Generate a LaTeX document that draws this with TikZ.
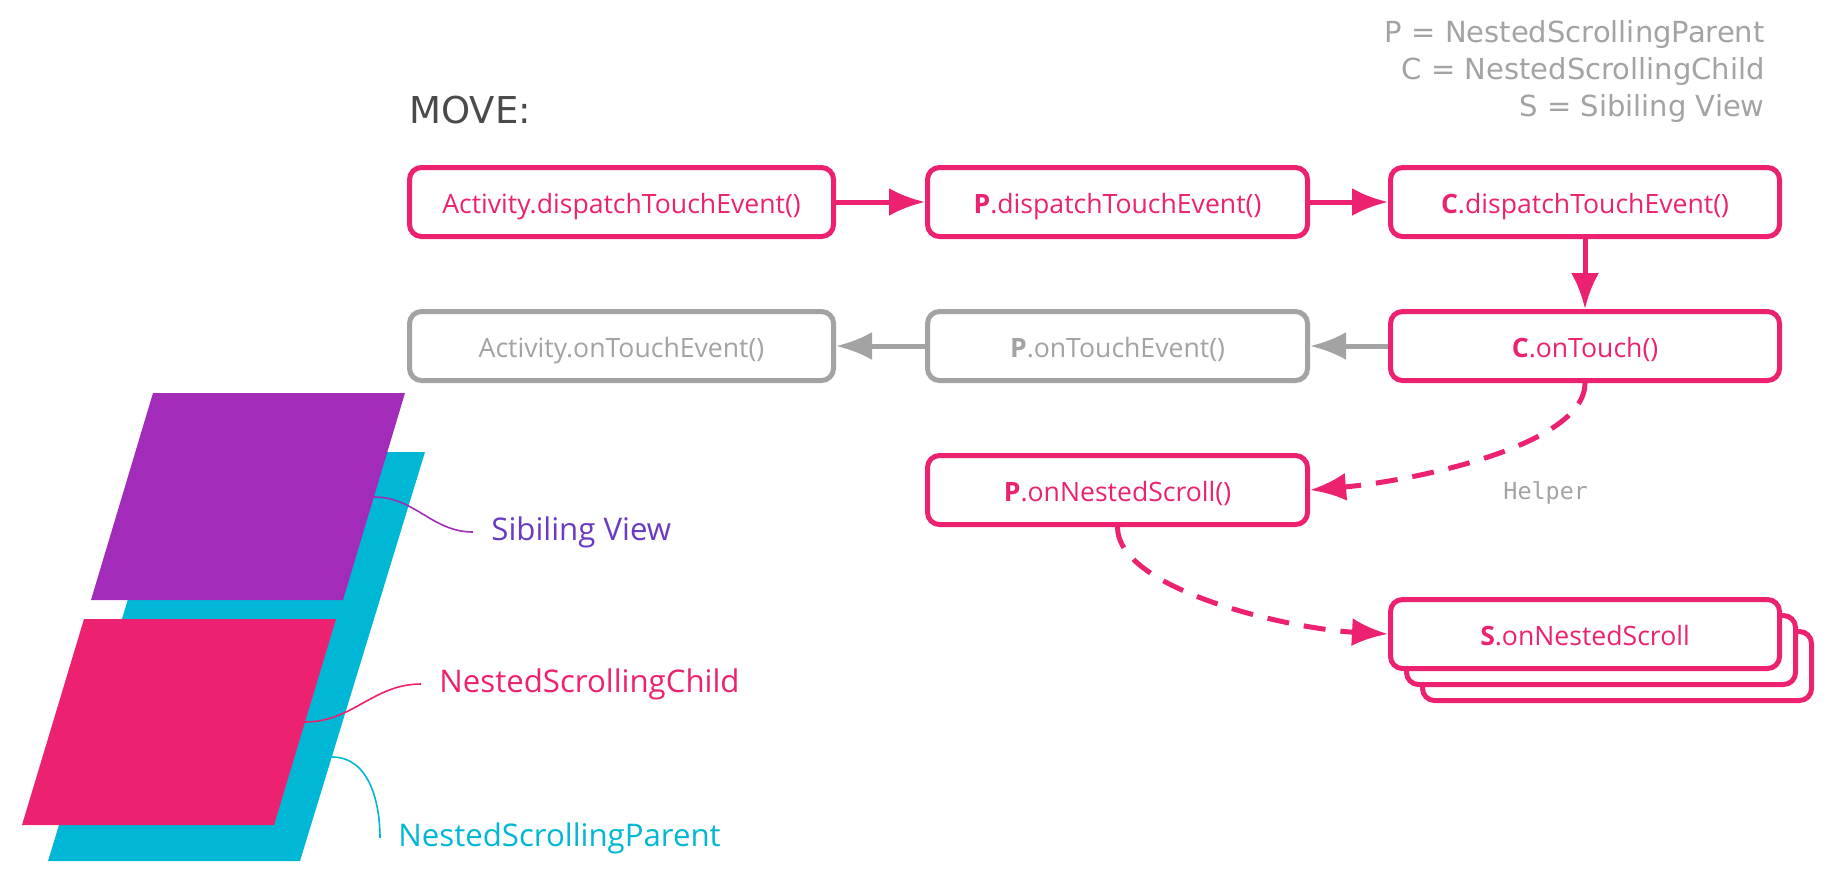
\documentclass[tikz,border=0pt]{standalone}
\usepackage{fontspec}
\setmainfont{Open Sans}
\newfontfamily\dejavu{DejaVu Sans}
\newfontfamily\dejavumono{DejaVu Sans Mono}
\usetikzlibrary{arrows.meta}
\definecolor{pinkish}{HTML}{EC2270}
\definecolor{greyish}{HTML}{A3A3A3}
\definecolor{purpleish}{HTML}{A22BB9}
\definecolor{cyanish}{HTML}{00B8D6}
\definecolor{deeppurple}{HTML}{6A3BC0}
\definecolor{darktext}{HTML}{4A4A4A}

\begin{document}
\begin{tikzpicture}[x=0.5pt,y=0.5pt,
    callbox/.style={draw=pinkish,line width=2.5pt,rounded corners=6pt,fill=white,minimum height=34.5pt,
        text=pinkish,font=\fontsize{13.3}{16}\selectfont,inner sep=0pt,text height=11pt,text depth=0pt},
    greybox/.style={callbox,draw=greyish,text=greyish},
    flow/.style={line width=2.5pt,draw=pinkish,-{Latex[length=18pt,width=14pt]}},
    back/.style={flow,draw=greyish},
    helper/.style={flow,dash pattern=on 11pt off 7.5pt,out looseness=0.55,in looseness=0.87},
    lbl/.style={anchor=west,inner xsep=9pt,inner ysep=2pt,font=\fontsize{15.6}{18}\selectfont},
    leader/.style={line width=0.8pt}]
    \useasboundingbox (0,0) rectangle (1836,-880);

    % Draw layers
    \fill[cyanish] (173,-452) -- (425,-452) -- (300,-861) -- (48,-861) -- cycle;
    \fill[purpleish] (153,-393) -- (405,-393) -- (343,-600) -- (91,-600) -- cycle;
    \fill[pinkish] (84,-619) -- (336,-619) -- (274,-825) -- (22,-825) -- cycle;

    % Layer labels
    \coordinate (sibtip) at (374,-497);
    \coordinate (childtip) at (305,-722);
    \coordinate (parenttip) at (332,-757);
    \node[lbl,text=deeppurple] (siblbl) at (473,-532) {Sibiling View};
    \node[lbl,text=pinkish] (childlbl) at (421,-684) {NestedScrollingChild};
    \node[lbl,text=cyanish] (parentlbl) at (380,-838) {NestedScrollingParent};
    \draw[leader,purpleish] (sibtip) to[out=0,in=180] (siblbl.west);
    \draw[leader,pinkish] (childtip) to[out=0,in=180] (childlbl.west);
    \draw[leader,cyanish] (parenttip) to[out=0,in=90] (parentlbl.west);

    % Titles
    \node[anchor=base west,inner sep=0pt,text=darktext,font=\dejavu\fontsize{18.5}{22}\selectfont] (move) at (409,-123) {MOVE:};
    \node[anchor=north east,align=right,inner sep=0pt,text=greyish,font=\dejavu\fontsize{14.5}{18.5}\selectfont] (legend) at (1765,-20)
        {P = NestedScrollingParent\\C = NestedScrollingChild\\S = Sibiling View};

    % Dispatch row
    \node[callbox,minimum width=212pt] (actdisp) at (621.5,-202) {Activity.dispatchTouchEvent()};
    \node[callbox,minimum width=190pt] (pdisp) at (1117.5,-202) {\textbf{P}.dispatchTouchEvent()};
    \node[callbox,minimum width=194.5pt] (cdisp) at (1585,-202) {\textbf{C}.dispatchTouchEvent()};

    % Touch row
    \node[greybox,minimum width=212pt] (acttouch) at (621.5,-346) {Activity.onTouchEvent()};
    \node[greybox,minimum width=190pt] (ptouch) at (1117.5,-346) {\textbf{P}.onTouchEvent()};
    \node[callbox,minimum width=194.5pt] (ctouch) at (1585,-346) {\textbf{C}.onTouch()};

    % Nested scroll
    \node[callbox,minimum width=190pt] (pnested) at (1117.5,-490) {\textbf{P}.onNestedScroll()};
    \node[callbox,minimum width=194.5pt] (snested3) at (1617,-666) {};
    \node[callbox,minimum width=194.5pt] (snested2) at (1601,-650) {};
    \node[callbox,minimum width=194.5pt] (snested) at (1585,-634) {\textbf{S}.onNestedScroll};
    \node[anchor=base west,inner sep=0pt,text=greyish,font=\dejavumono\fontsize{11.7}{14}\selectfont] (helperlbl) at (1503,-499) {Helper};

    % Draw arrows
    \draw[flow] (actdisp) -- (pdisp);
    \draw[flow] (pdisp) -- (cdisp);
    \draw[flow] (cdisp) -- (ctouch);
    \draw[back] (ctouch) -- (ptouch);
    \draw[back] (ptouch) -- (acttouch);
    \draw[helper] (ctouch.south) to[out=-90,in=5] (pnested.east);
    \draw[helper] (pnested.south) to[out=-90,in=177] (snested.west);
\end{tikzpicture}
\end{document}
